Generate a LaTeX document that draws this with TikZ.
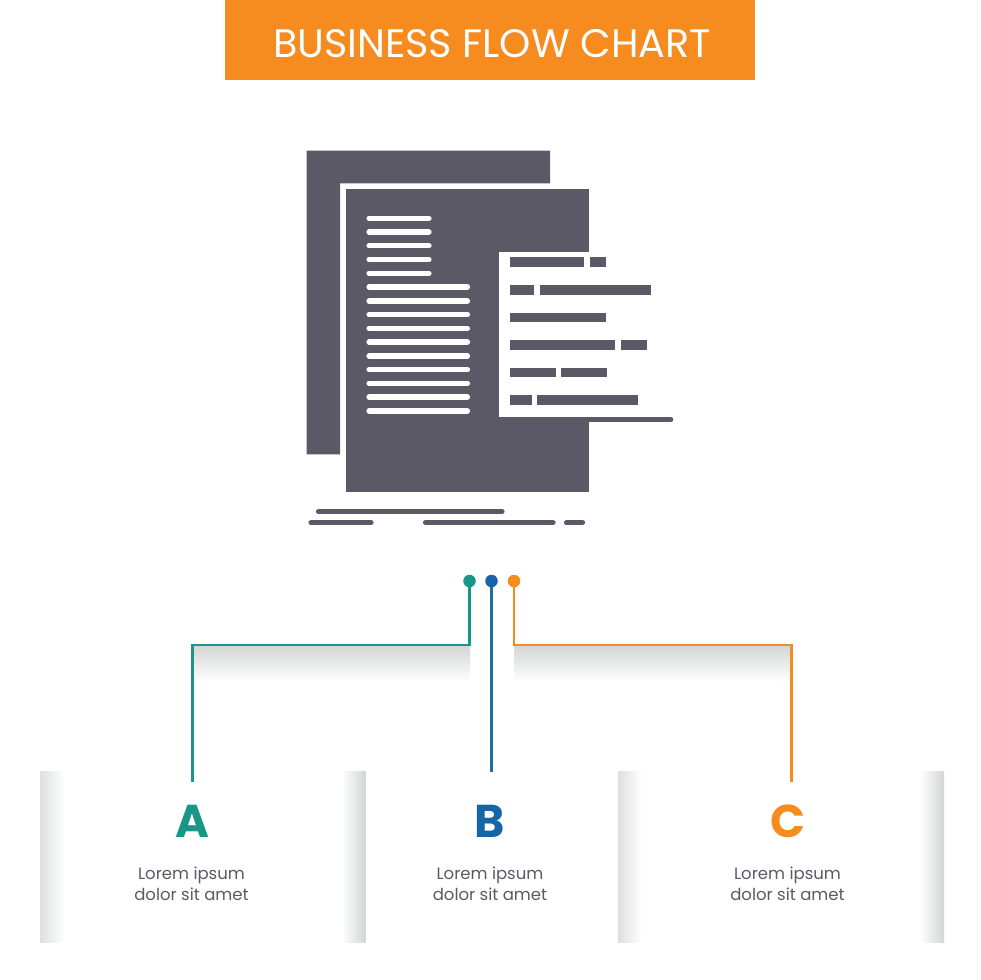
\documentclass[tikz,border=0pt]{standalone}
\usepackage{fontspec}
\setmainfont{Poppins}
\usetikzlibrary{shapes.geometric}
\definecolor{sheetgray}{HTML}{5B5966}
\definecolor{bandorange}{HTML}{F68B1F}
\definecolor{tealA}{HTML}{1A9688}
\definecolor{blueB}{HTML}{1565A8}
\definecolor{shadowgray}{HTML}{D3D5D5}
\tikzset{
    whiterule/.style = {white, line width = 5.2, line cap = round},
    darkrule/.style = {sheetgray, line width = 5.2, line cap = round},
    dotnode/.style = {circle, minimum size = 12.5, inner sep = 0},
    wire/.style = {line width = 2.05},
    bodytext/.style = {text = sheetgray, align = center, font = \fontsize{16.5}{20.5}\selectfont},
    letternode/.style = {font = \fontsize{46}{46}\selectfont\bfseries}
}

\begin{document}
\begin{tikzpicture}[x = 1pt, y = -1pt]
    \useasboundingbox (0, 0) rectangle (980, 980);
    \fill[white] (0, 0) rectangle (980, 980);

    % header
    \fill[bandorange] (225, 0) rectangle (754.5, 80);
    \node[text = white, font = \fontsize{39.7}{39.7}\selectfont] (title) at (492, 44) {BUSINESS FLOW CHART};

    % sheets
    \fill[sheetgray] (306.7, 150.7) -- (550, 150.7) -- (550, 183.3) -- (340, 183.3) -- (340, 454.3) -- (306.7, 454.3) -- cycle;
    \fill[sheetgray] (345.7, 189) rectangle (589, 492.3);
    \foreach \ypos in {218.3, 232, 245.8, 259.6, 273.3}
        \draw[whiterule] (369, \ypos) -- (429, \ypos);
    \foreach \ypos in {287, 301, 314.7, 328.3, 342, 356, 369.7, 383.3, 397, 411}
        \draw[whiterule] (369, \ypos) -- (467.5, \ypos);

    % small sheet
    \fill[white] (499, 252) rectangle (680, 417);
    \draw[darkrule] (592, 419.6) -- (670.7, 419.6);
    \fill[sheetgray] (589, 417) rectangle (592, 422.2);
    \fill[sheetgray] (510, 257.3) rectangle (584.3, 267.3);
    \fill[sheetgray] (589.7, 257.3) rectangle (606, 267.3);
    \fill[sheetgray] (510, 285) rectangle (534.3, 294.7);
    \fill[sheetgray] (540, 285) rectangle (651.3, 294.7);
    \fill[sheetgray] (510, 312.7) rectangle (606, 322.3);
    \fill[sheetgray] (510, 340) rectangle (615.3, 350);
    \fill[sheetgray] (620.7, 340) rectangle (646.7, 350);
    \fill[sheetgray] (510, 367.7) rectangle (555.7, 377.3);
    \fill[sheetgray] (561, 367.7) rectangle (606.7, 377.3);
    \fill[sheetgray] (510, 395.3) rectangle (531.7, 405);
    \fill[sheetgray] (537, 395.3) rectangle (637.7, 405);

    % ground lines
    \draw[darkrule] (318.5, 511.7) -- (502, 511.7);
    \draw[darkrule] (311, 522.7) -- (371, 522.7);
    \draw[darkrule] (425.5, 522.7) -- (553, 522.7);
    \draw[darkrule] (566.5, 522.7) -- (582.5, 522.7);

    % shadows
    \shade[top color = shadowgray, bottom color = white] (193, 645) rectangle (470, 682);
    \shade[top color = shadowgray, bottom color = white] (514, 645) rectangle (791.5, 682);
    \shade[left color = shadowgray!75, right color = white] (40, 771.7) rectangle (64, 942.3);
    \shade[left color = white, right color = shadowgray] (342, 771.7) rectangle (365.7, 942.3);
    \shade[left color = shadowgray!75, right color = white] (618.3, 771.7) rectangle (642, 942.3);
    \shade[left color = white, right color = shadowgray] (920, 771.7) rectangle (944, 942.3);

    % dots and wires
    \node[dotnode, fill = tealA] (dotA) at (469.5, 581) {};
    \node[dotnode, fill = blueB] (dotB) at (491.5, 581) {};
    \node[dotnode, fill = bandorange] (dotC) at (514, 581) {};
    \coordinate (cornerA) at (192.5, 645);
    \coordinate (endA) at (192.5, 781.6);
    \coordinate (endB) at (491.5, 771.5);
    \coordinate (cornerC) at (791.5, 645);
    \coordinate (endC) at (791.5, 781.6);
    \draw[wire, tealA] (dotA.south) |- (cornerA) -- (endA);
    \draw[wire, blueB!75!tealA] (dotB.south) -- (endB);
    \draw[wire, bandorange] (dotC.south) |- (cornerC) -- (endC);

    % panels
    \node[letternode, text = tealA] (letterA) at (192, 821) {A};
    \node[letternode, text = blueB] (letterB) at (490, 821) {B};
    \node[letternode, text = bandorange] (letterC) at (788, 821) {C};
    \node[bodytext] (textA) at (191.5, 884) {Lorem ipsum\\dolor sit amet};
    \node[bodytext] (textB) at (490, 884) {Lorem ipsum\\dolor sit amet};
    \node[bodytext] (textC) at (787.5, 884) {Lorem ipsum\\dolor sit amet};
\end{tikzpicture}
\end{document}
